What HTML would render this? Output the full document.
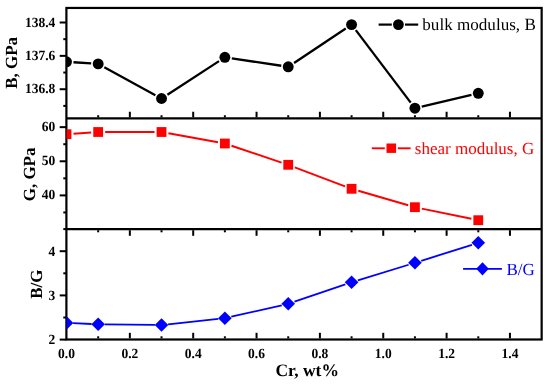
<!DOCTYPE html>
<html><head><meta charset="utf-8"><style>
html,body{margin:0;padding:0;background:#fff;}
svg{display:block;}
text{font-family:"Liberation Serif","Times New Roman",serif;text-rendering:geometricPrecision;}
</style></head><body>
<svg width="550" height="384" viewBox="0 0 550 384">
<rect width="550" height="384" fill="#fff"/>
<rect x="66.4" y="7.95" width="475.25" height="331.55" fill="none" stroke="#000" stroke-width="2.2"/>
<line x1="66.40" y1="118.45" x2="541.65" y2="118.45" stroke="#000" stroke-width="2.2" stroke-linecap="butt"/>
<line x1="66.40" y1="229.10" x2="541.65" y2="229.10" stroke="#000" stroke-width="2.2" stroke-linecap="butt"/>
<line x1="59.70" y1="22.50" x2="66.40" y2="22.50" stroke="#000" stroke-width="2.0" stroke-linecap="butt"/>
<line x1="59.70" y1="55.86" x2="66.40" y2="55.86" stroke="#000" stroke-width="2.0" stroke-linecap="butt"/>
<line x1="59.70" y1="89.22" x2="66.40" y2="89.22" stroke="#000" stroke-width="2.0" stroke-linecap="butt"/>
<line x1="63.30" y1="39.18" x2="66.40" y2="39.18" stroke="#000" stroke-width="2.0" stroke-linecap="butt"/>
<line x1="63.30" y1="72.54" x2="66.40" y2="72.54" stroke="#000" stroke-width="2.0" stroke-linecap="butt"/>
<line x1="63.30" y1="105.90" x2="66.40" y2="105.90" stroke="#000" stroke-width="2.0" stroke-linecap="butt"/>
<line x1="59.70" y1="127.15" x2="66.40" y2="127.15" stroke="#000" stroke-width="2.0" stroke-linecap="butt"/>
<line x1="59.70" y1="161.28" x2="66.40" y2="161.28" stroke="#000" stroke-width="2.0" stroke-linecap="butt"/>
<line x1="59.70" y1="195.40" x2="66.40" y2="195.40" stroke="#000" stroke-width="2.0" stroke-linecap="butt"/>
<line x1="63.30" y1="144.21" x2="66.40" y2="144.21" stroke="#000" stroke-width="2.0" stroke-linecap="butt"/>
<line x1="63.30" y1="178.34" x2="66.40" y2="178.34" stroke="#000" stroke-width="2.0" stroke-linecap="butt"/>
<line x1="63.30" y1="212.46" x2="66.40" y2="212.46" stroke="#000" stroke-width="2.0" stroke-linecap="butt"/>
<line x1="59.70" y1="251.20" x2="66.40" y2="251.20" stroke="#000" stroke-width="2.0" stroke-linecap="butt"/>
<line x1="59.70" y1="295.40" x2="66.40" y2="295.40" stroke="#000" stroke-width="2.0" stroke-linecap="butt"/>
<line x1="59.70" y1="339.60" x2="66.40" y2="339.60" stroke="#000" stroke-width="2.0" stroke-linecap="butt"/>
<line x1="63.30" y1="229.10" x2="66.40" y2="229.10" stroke="#000" stroke-width="2.0" stroke-linecap="butt"/>
<line x1="63.30" y1="273.30" x2="66.40" y2="273.30" stroke="#000" stroke-width="2.0" stroke-linecap="butt"/>
<line x1="63.30" y1="317.50" x2="66.40" y2="317.50" stroke="#000" stroke-width="2.0" stroke-linecap="butt"/>
<text x="0" y="0" font-size="13.5" font-weight="bold" text-anchor="end" fill="#000" transform="translate(55.30,26.50) scale(1,1.04)" >138.4</text>
<text x="0" y="0" font-size="13.5" font-weight="bold" text-anchor="end" fill="#000" transform="translate(55.30,59.86) scale(1,1.04)" >137.6</text>
<text x="0" y="0" font-size="13.5" font-weight="bold" text-anchor="end" fill="#000" transform="translate(55.30,93.22) scale(1,1.04)" >136.8</text>
<text x="0" y="0" font-size="13.5" font-weight="bold" text-anchor="end" fill="#000" transform="translate(55.30,131.15) scale(1,1.04)" >60</text>
<text x="0" y="0" font-size="13.5" font-weight="bold" text-anchor="end" fill="#000" transform="translate(55.30,165.28) scale(1,1.04)" >50</text>
<text x="0" y="0" font-size="13.5" font-weight="bold" text-anchor="end" fill="#000" transform="translate(55.30,199.40) scale(1,1.04)" >40</text>
<text x="0" y="0" font-size="13.5" font-weight="bold" text-anchor="end" fill="#000" transform="translate(55.30,255.60) scale(1,1.04)" >4</text>
<text x="0" y="0" font-size="13.5" font-weight="bold" text-anchor="end" fill="#000" transform="translate(55.30,299.80) scale(1,1.04)" >3</text>
<text x="0" y="0" font-size="13.5" font-weight="bold" text-anchor="end" fill="#000" transform="translate(55.30,344.00) scale(1,1.04)" >2</text>
<line x1="98.17" y1="117.35" x2="98.17" y2="115.25" stroke="#000" stroke-width="2.0" stroke-linecap="butt"/>
<line x1="98.17" y1="230.20" x2="98.17" y2="232.30" stroke="#000" stroke-width="2.0" stroke-linecap="butt"/>
<line x1="98.17" y1="338.40" x2="98.17" y2="336.30" stroke="#000" stroke-width="2.0" stroke-linecap="butt"/>
<line x1="129.85" y1="117.35" x2="129.85" y2="111.75" stroke="#000" stroke-width="2.0" stroke-linecap="butt"/>
<line x1="129.85" y1="230.20" x2="129.85" y2="235.80" stroke="#000" stroke-width="2.0" stroke-linecap="butt"/>
<line x1="129.85" y1="338.40" x2="129.85" y2="332.80" stroke="#000" stroke-width="2.0" stroke-linecap="butt"/>
<line x1="161.52" y1="117.35" x2="161.52" y2="115.25" stroke="#000" stroke-width="2.0" stroke-linecap="butt"/>
<line x1="161.52" y1="230.20" x2="161.52" y2="232.30" stroke="#000" stroke-width="2.0" stroke-linecap="butt"/>
<line x1="161.52" y1="338.40" x2="161.52" y2="336.30" stroke="#000" stroke-width="2.0" stroke-linecap="butt"/>
<line x1="193.20" y1="117.35" x2="193.20" y2="111.75" stroke="#000" stroke-width="2.0" stroke-linecap="butt"/>
<line x1="193.20" y1="230.20" x2="193.20" y2="235.80" stroke="#000" stroke-width="2.0" stroke-linecap="butt"/>
<line x1="193.20" y1="338.40" x2="193.20" y2="332.80" stroke="#000" stroke-width="2.0" stroke-linecap="butt"/>
<line x1="224.88" y1="117.35" x2="224.88" y2="115.25" stroke="#000" stroke-width="2.0" stroke-linecap="butt"/>
<line x1="224.88" y1="230.20" x2="224.88" y2="232.30" stroke="#000" stroke-width="2.0" stroke-linecap="butt"/>
<line x1="224.88" y1="338.40" x2="224.88" y2="336.30" stroke="#000" stroke-width="2.0" stroke-linecap="butt"/>
<line x1="256.55" y1="117.35" x2="256.55" y2="111.75" stroke="#000" stroke-width="2.0" stroke-linecap="butt"/>
<line x1="256.55" y1="230.20" x2="256.55" y2="235.80" stroke="#000" stroke-width="2.0" stroke-linecap="butt"/>
<line x1="256.55" y1="338.40" x2="256.55" y2="332.80" stroke="#000" stroke-width="2.0" stroke-linecap="butt"/>
<line x1="288.23" y1="117.35" x2="288.23" y2="115.25" stroke="#000" stroke-width="2.0" stroke-linecap="butt"/>
<line x1="288.23" y1="230.20" x2="288.23" y2="232.30" stroke="#000" stroke-width="2.0" stroke-linecap="butt"/>
<line x1="288.23" y1="338.40" x2="288.23" y2="336.30" stroke="#000" stroke-width="2.0" stroke-linecap="butt"/>
<line x1="319.90" y1="117.35" x2="319.90" y2="111.75" stroke="#000" stroke-width="2.0" stroke-linecap="butt"/>
<line x1="319.90" y1="230.20" x2="319.90" y2="235.80" stroke="#000" stroke-width="2.0" stroke-linecap="butt"/>
<line x1="319.90" y1="338.40" x2="319.90" y2="332.80" stroke="#000" stroke-width="2.0" stroke-linecap="butt"/>
<line x1="351.57" y1="117.35" x2="351.57" y2="115.25" stroke="#000" stroke-width="2.0" stroke-linecap="butt"/>
<line x1="351.57" y1="230.20" x2="351.57" y2="232.30" stroke="#000" stroke-width="2.0" stroke-linecap="butt"/>
<line x1="351.57" y1="338.40" x2="351.57" y2="336.30" stroke="#000" stroke-width="2.0" stroke-linecap="butt"/>
<line x1="383.25" y1="117.35" x2="383.25" y2="111.75" stroke="#000" stroke-width="2.0" stroke-linecap="butt"/>
<line x1="383.25" y1="230.20" x2="383.25" y2="235.80" stroke="#000" stroke-width="2.0" stroke-linecap="butt"/>
<line x1="383.25" y1="338.40" x2="383.25" y2="332.80" stroke="#000" stroke-width="2.0" stroke-linecap="butt"/>
<line x1="414.93" y1="117.35" x2="414.93" y2="115.25" stroke="#000" stroke-width="2.0" stroke-linecap="butt"/>
<line x1="414.93" y1="230.20" x2="414.93" y2="232.30" stroke="#000" stroke-width="2.0" stroke-linecap="butt"/>
<line x1="414.93" y1="338.40" x2="414.93" y2="336.30" stroke="#000" stroke-width="2.0" stroke-linecap="butt"/>
<line x1="446.60" y1="117.35" x2="446.60" y2="111.75" stroke="#000" stroke-width="2.0" stroke-linecap="butt"/>
<line x1="446.60" y1="230.20" x2="446.60" y2="235.80" stroke="#000" stroke-width="2.0" stroke-linecap="butt"/>
<line x1="446.60" y1="338.40" x2="446.60" y2="332.80" stroke="#000" stroke-width="2.0" stroke-linecap="butt"/>
<line x1="478.28" y1="117.35" x2="478.28" y2="115.25" stroke="#000" stroke-width="2.0" stroke-linecap="butt"/>
<line x1="478.28" y1="230.20" x2="478.28" y2="232.30" stroke="#000" stroke-width="2.0" stroke-linecap="butt"/>
<line x1="478.28" y1="338.40" x2="478.28" y2="336.30" stroke="#000" stroke-width="2.0" stroke-linecap="butt"/>
<line x1="509.95" y1="117.35" x2="509.95" y2="111.75" stroke="#000" stroke-width="2.0" stroke-linecap="butt"/>
<line x1="509.95" y1="230.20" x2="509.95" y2="235.80" stroke="#000" stroke-width="2.0" stroke-linecap="butt"/>
<line x1="509.95" y1="338.40" x2="509.95" y2="332.80" stroke="#000" stroke-width="2.0" stroke-linecap="butt"/>
<text x="0" y="0" font-size="13.5" font-weight="bold" text-anchor="middle" fill="#000" transform="translate(66.50,357.65) scale(1,1.04)" >0.0</text>
<text x="0" y="0" font-size="13.5" font-weight="bold" text-anchor="middle" fill="#000" transform="translate(129.85,357.65) scale(1,1.04)" >0.2</text>
<text x="0" y="0" font-size="13.5" font-weight="bold" text-anchor="middle" fill="#000" transform="translate(193.20,357.65) scale(1,1.04)" >0.4</text>
<text x="0" y="0" font-size="13.5" font-weight="bold" text-anchor="middle" fill="#000" transform="translate(256.55,357.65) scale(1,1.04)" >0.6</text>
<text x="0" y="0" font-size="13.5" font-weight="bold" text-anchor="middle" fill="#000" transform="translate(319.90,357.65) scale(1,1.04)" >0.8</text>
<text x="0" y="0" font-size="13.5" font-weight="bold" text-anchor="middle" fill="#000" transform="translate(383.25,357.65) scale(1,1.04)" >1.0</text>
<text x="0" y="0" font-size="13.5" font-weight="bold" text-anchor="middle" fill="#000" transform="translate(446.60,357.65) scale(1,1.04)" >1.2</text>
<text x="0" y="0" font-size="13.5" font-weight="bold" text-anchor="middle" fill="#000" transform="translate(509.95,357.65) scale(1,1.04)" >1.4</text>
<text x="307.15" y="375.60" font-size="17.5" font-weight="bold" text-anchor="middle" fill="#000" >Cr, wt%</text>
<text x="0" y="0" font-size="17" font-weight="bold" text-anchor="middle" transform="translate(17.4,62.9) rotate(-90)">B, GPa</text>
<text x="0" y="0" font-size="17" font-weight="bold" text-anchor="middle" transform="translate(34.6,174.4) rotate(-90)">G, GPa</text>
<text x="0" y="0" font-size="17" font-weight="bold" text-anchor="middle" transform="translate(41.6,284.1) rotate(-90)">B/G</text>
<defs><clipPath id="c"><rect x="66.50" y="0" width="485.25" height="384"/></clipPath></defs>
<g clip-path="url(#c)">
<line x1="73.48" y1="62.26" x2="91.19" y2="63.44" stroke="#000" stroke-width="2.3" stroke-linecap="butt"/>
<line x1="104.32" y1="67.26" x2="155.38" y2="95.14" stroke="#000" stroke-width="2.3" stroke-linecap="butt"/>
<line x1="167.39" y1="94.68" x2="219.01" y2="61.12" stroke="#000" stroke-width="2.3" stroke-linecap="butt"/>
<line x1="231.80" y1="58.34" x2="281.30" y2="65.76" stroke="#000" stroke-width="2.3" stroke-linecap="butt"/>
<line x1="294.05" y1="62.92" x2="345.75" y2="28.48" stroke="#000" stroke-width="2.3" stroke-linecap="butt"/>
<line x1="355.80" y1="30.18" x2="410.70" y2="102.62" stroke="#000" stroke-width="2.3" stroke-linecap="butt"/>
<line x1="421.74" y1="106.60" x2="471.46" y2="94.90" stroke="#000" stroke-width="2.3" stroke-linecap="butt"/>
<circle cx="66.50" cy="61.80" r="5.45" fill="#000"/>
<circle cx="98.17" cy="63.90" r="5.45" fill="#000"/>
<circle cx="161.52" cy="98.50" r="5.45" fill="#000"/>
<circle cx="224.88" cy="57.30" r="5.45" fill="#000"/>
<circle cx="288.23" cy="66.80" r="5.45" fill="#000"/>
<circle cx="351.57" cy="24.60" r="5.45" fill="#000"/>
<circle cx="414.93" cy="108.20" r="5.45" fill="#000"/>
<circle cx="478.28" cy="93.30" r="5.45" fill="#000"/>
<line x1="73.48" y1="133.71" x2="91.19" y2="132.49" stroke="#f00" stroke-width="1.9" stroke-linecap="butt"/>
<line x1="105.17" y1="132.00" x2="154.52" y2="132.00" stroke="#f00" stroke-width="1.9" stroke-linecap="butt"/>
<line x1="168.41" y1="133.25" x2="217.99" y2="142.25" stroke="#f00" stroke-width="1.9" stroke-linecap="butt"/>
<line x1="231.51" y1="145.73" x2="281.59" y2="162.57" stroke="#f00" stroke-width="1.9" stroke-linecap="butt"/>
<line x1="294.77" y1="167.28" x2="345.03" y2="186.32" stroke="#f00" stroke-width="1.9" stroke-linecap="butt"/>
<line x1="358.30" y1="190.75" x2="408.20" y2="205.25" stroke="#f00" stroke-width="1.9" stroke-linecap="butt"/>
<line x1="421.78" y1="208.61" x2="471.42" y2="218.79" stroke="#f00" stroke-width="1.9" stroke-linecap="butt"/>
<rect x="61.60" y="129.30" width="9.8" height="9.8" fill="#f00"/>
<rect x="93.27" y="127.10" width="9.8" height="9.8" fill="#f00"/>
<rect x="156.62" y="127.10" width="9.8" height="9.8" fill="#f00"/>
<rect x="219.97" y="138.60" width="9.8" height="9.8" fill="#f00"/>
<rect x="283.33" y="159.90" width="9.8" height="9.8" fill="#f00"/>
<rect x="346.68" y="183.90" width="9.8" height="9.8" fill="#f00"/>
<rect x="410.03" y="202.30" width="9.8" height="9.8" fill="#f00"/>
<rect x="473.38" y="215.30" width="9.8" height="9.8" fill="#f00"/>
<line x1="73.09" y1="323.19" x2="91.58" y2="324.01" stroke="#00f" stroke-width="1.8" stroke-linecap="butt"/>
<line x1="104.77" y1="324.37" x2="154.93" y2="324.93" stroke="#00f" stroke-width="1.8" stroke-linecap="butt"/>
<line x1="168.09" y1="324.30" x2="218.31" y2="318.90" stroke="#00f" stroke-width="1.8" stroke-linecap="butt"/>
<line x1="231.31" y1="316.74" x2="281.79" y2="305.26" stroke="#00f" stroke-width="1.8" stroke-linecap="butt"/>
<line x1="294.47" y1="301.68" x2="345.33" y2="284.42" stroke="#00f" stroke-width="1.8" stroke-linecap="butt"/>
<line x1="357.88" y1="280.36" x2="408.62" y2="264.74" stroke="#00f" stroke-width="1.8" stroke-linecap="butt"/>
<line x1="421.22" y1="260.81" x2="471.98" y2="244.79" stroke="#00f" stroke-width="1.8" stroke-linecap="butt"/>
<path d="M59.70,322.90 L66.50,316.10 L73.30,322.90 L66.50,329.70 Z" fill="#00f"/>
<path d="M91.38,324.30 L98.17,317.50 L104.97,324.30 L98.17,331.10 Z" fill="#00f"/>
<path d="M154.72,325.00 L161.52,318.20 L168.32,325.00 L161.52,331.80 Z" fill="#00f"/>
<path d="M218.07,318.20 L224.88,311.40 L231.68,318.20 L224.88,325.00 Z" fill="#00f"/>
<path d="M281.43,303.80 L288.23,297.00 L295.03,303.80 L288.23,310.60 Z" fill="#00f"/>
<path d="M344.77,282.30 L351.57,275.50 L358.38,282.30 L351.57,289.10 Z" fill="#00f"/>
<path d="M408.12,262.80 L414.93,256.00 L421.73,262.80 L414.93,269.60 Z" fill="#00f"/>
<path d="M471.48,242.80 L478.28,236.00 L485.08,242.80 L478.28,249.60 Z" fill="#00f"/>
</g>
<line x1="378.60" y1="24.60" x2="391.80" y2="24.60" stroke="#000" stroke-width="2.2" stroke-linecap="butt"/>
<line x1="405.00" y1="24.60" x2="418.20" y2="24.60" stroke="#000" stroke-width="2.2" stroke-linecap="butt"/>
<circle cx="398.4" cy="24.6" r="5.4" fill="#000"/>
<text x="422.30" y="29.90" font-size="17.1" font-weight="normal" text-anchor="start" fill="#000" >bulk modulus, B</text>
<line x1="371.80" y1="148.30" x2="384.80" y2="148.30" stroke="#f00" stroke-width="1.9" stroke-linecap="butt"/>
<line x1="397.80" y1="148.30" x2="410.60" y2="148.30" stroke="#f00" stroke-width="1.9" stroke-linecap="butt"/>
<rect x="386.5" y="143.5" width="9.6" height="9.4" fill="#f00"/>
<text x="414.80" y="154.00" font-size="17" font-weight="normal" text-anchor="start" fill="#f00" >shear modulus, G</text>
<line x1="463.10" y1="268.90" x2="501.90" y2="268.90" stroke="#00f" stroke-width="1.8" stroke-linecap="butt"/>
<path d="M476.2,268.8 L482.5,262.2 L488.8,268.8 L482.5,275.4 Z" fill="#00f"/>
<text x="506.40" y="274.50" font-size="17" font-weight="normal" text-anchor="start" fill="#00f" >B/G</text>
</svg>
</body></html>
